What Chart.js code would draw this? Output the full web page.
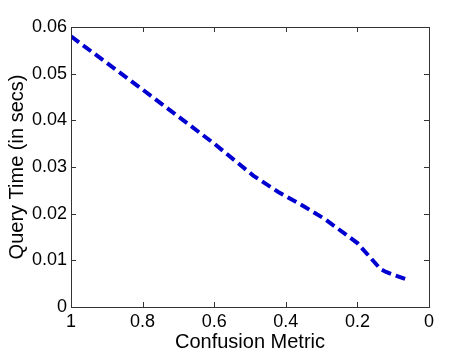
<!DOCTYPE html>
<html>
<head>
<meta charset="utf-8">
<script src="https://cdn.jsdelivr.net/npm/chart.js@4/dist/chart.umd.min.js"></script>
<style>
  html, body { margin: 0; padding: 0; background: #fff; }
  #wrap { width: 474px; height: 355px; position: relative; }
</style>
</head>
<body>
<div id="wrap"><canvas id="c" width="474" height="355"></canvas></div>
<script>
const confusionMetric = [1, 0.9, 0.8, 0.7, 0.6, 0.49, 0.42, 0.35, 0.29, 0.26, 0.2, 0.135, 0.12, 0.063];
const queryTime = [0.058, 0.0523, 0.0466, 0.0408, 0.035, 0.0281, 0.0246, 0.0216, 0.0188, 0.0171, 0.0137, 0.0081, 0.0075, 0.0059];
const xTickValues = [1, 0.8, 0.6, 0.4, 0.2, 0];
const xTickLabels = ['1', '0.8', '0.6', '0.4', '0.2', '0'];
const yTickValues = [0, 0.01, 0.02, 0.03, 0.04, 0.05, 0.06];
const yTickLabels = ['0', '0.01', '0.02', '0.03', '0.04', '0.05', '0.06'];

const FONT = 'Arial, "Liberation Sans", sans-serif';

const boxTicks = {
  id: 'boxTicks',
  afterDraw(chart) {
    const ctx = chart.ctx, a = chart.chartArea;
    const xs = chart.scales.x, ys = chart.scales.y;
    const L = 5;
    ctx.save();
    ctx.strokeStyle = '#333';
    ctx.lineWidth = 1;
    ctx.beginPath();
    xTickValues.forEach(v => {
      const px = Math.round(xs.getPixelForValue(v)) + 0.5;
      ctx.moveTo(px, a.bottom); ctx.lineTo(px, a.bottom - L);
      ctx.moveTo(px, a.top); ctx.lineTo(px, a.top + L);
    });
    yTickValues.forEach(v => {
      const py = Math.round(ys.getPixelForValue(v)) + 0.5;
      ctx.moveTo(a.left, py); ctx.lineTo(a.left + L, py);
      ctx.moveTo(a.right, py); ctx.lineTo(a.right - L, py);
    });
    ctx.stroke();
    ctx.strokeRect(Math.round(a.left) + 0.5, Math.round(a.top) + 0.5,
                   Math.round(a.right - a.left), Math.round(a.bottom - a.top));
    ctx.restore();
  }
};

new Chart(document.getElementById('c'), {
  type: 'line',
  data: {
    datasets: [{
      data: confusionMetric.map((x, i) => ({ x: x, y: queryTime[i] })),
      borderColor: '#0000d0',
      borderWidth: 4,
      borderDash: [10, 5],
      pointRadius: 0,
      tension: 0,
      fill: false
    }]
  },
  options: {
    responsive: false,
    animation: false,
    devicePixelRatio: 1,
    layout: { padding: { top: 27, right: 45, left: 0, bottom: 0 } },
    plugins: { legend: { display: false }, tooltip: { enabled: false } },
    scales: {
      x: {
        type: 'linear',
        reverse: true,
        min: 0, max: 1,
        grid: { display: false, drawTicks: false },
        border: { display: false },
        afterBuildTicks: s => { s.ticks = xTickValues.map(v => ({ value: v })); },
        afterFit: s => { s.height = 48; },
        ticks: {
          padding: 4,
          maxRotation: 0,
          color: '#000',
          font: { family: FONT, size: 18 },
          callback: v => xTickLabels[xTickValues.indexOf(v)]
        },
        title: {
          display: true,
          text: 'Confusion Metric',
          color: '#000',
          font: { family: FONT, size: 20 },
          padding: { top: 0, bottom: 1 }
        }
      },
      y: {
        type: 'linear',
        min: 0, max: 0.06,
        grid: { display: false, drawTicks: false },
        border: { display: false },
        afterBuildTicks: s => { s.ticks = yTickValues.map(v => ({ value: v })); },
        afterFit: s => { s.width = 71; },
        ticks: {
          padding: 4,
          color: '#000',
          font: { family: FONT, size: 18 },
          callback: v => yTickLabels[yTickValues.indexOf(v)]
        },
        title: {
          display: true,
          text: 'Query Time (in secs)',
          color: '#000',
          font: { family: FONT, size: 20 },
          padding: { top: 5, bottom: 0 }
        }
      }
    }
  },
  plugins: [boxTicks]
});
</script>
</body>
</html>
